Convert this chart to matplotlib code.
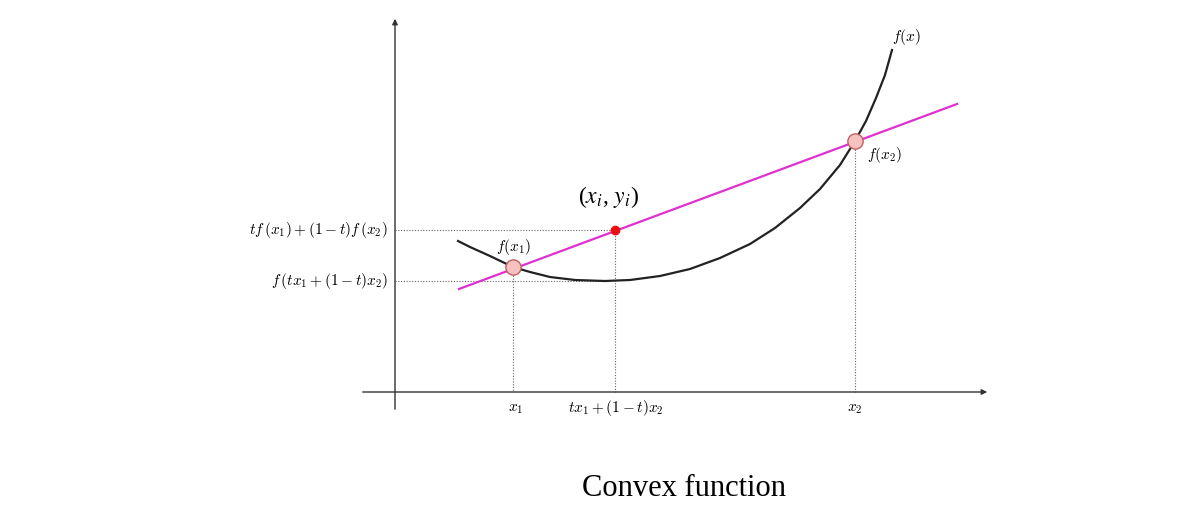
import matplotlib
matplotlib.use("Agg")
import matplotlib.pyplot as plt

plt.rcParams['mathtext.fontset'] = 'cm'

# curve samples (pixel-like units)
curve_x = [458, 470, 490, 513, 530, 550, 575, 605, 630, 660, 690, 720, 750, 775, 800, 820, 840, 855, 866, 876, 885, 892]
curve_y = [241, 247, 256, 267, 272, 277, 280, 281, 280, 276, 269, 258, 244, 228, 208, 189, 165, 141, 121, 98, 75, 50]
chord_x = [459, 957]
chord_y = [289, 104]
x1, fx1 = 513, 267
x2, fx2 = 855, 141
xm, fm = 615, 281
ym = 230
axis_x0, axis_y0 = 395, 392

fig = plt.figure(figsize=(12, 5.19), dpi=100)
ax = fig.add_axes([0, 0, 1, 1])
ax.set_xlim(0, 1200)
ax.set_ylim(519, 0)
ax.axis('off')

ax.annotate('', xy=(990, axis_y0), xytext=(360, axis_y0),
            arrowprops=dict(arrowstyle='-|>', color='#333', lw=1, mutation_scale=8))
ax.annotate('', xy=(axis_x0, 16), xytext=(axis_x0, 412),
            arrowprops=dict(arrowstyle='-|>', color='#333', lw=1, mutation_scale=8))

dot = dict(color='#666', lw=0.8, ls=(0, (1, 1.5)))
ax.plot([axis_x0, xm], [ym, ym], **dot)
ax.plot([axis_x0, xm - 10], [fm, fm], **dot)
ax.plot([x1, x1], [fx1, axis_y0], **dot)
ax.plot([xm, xm], [ym, axis_y0], **dot)
ax.plot([x2, x2], [fx2, axis_y0], **dot)

ax.plot(curve_x, curve_y, color='#222', lw=1.6, solid_joinstyle='round')
ax.plot(chord_x, chord_y, color='#e030d0', lw=1.6)
ax.plot([x1, x2], [fx1, fx2], 'o', ms=11, mfc='#f6c2c0', mec='#c06060', mew=1)
ax.plot([xm], [ym], 'o', ms=6, color='#ee1111')

s = 11
ax.text(892, 37, r'$f(x)$', fontsize=s, va='center')
ax.text(867, 155, r'$f(x_2)$', fontsize=s, va='center')
ax.text(496, 247, r'$f(x_1)$', fontsize=s, va='center')
ax.text(608, 197, r'($x_i$, $y_i$)', fontsize=17, ha='center', va='center',
        family='Liberation Serif', math_fontfamily='stix')
ax.text(388, ym, r'$tf\,(x_1)+(1-t)f\,(x_2)$', fontsize=s, ha='right', va='center')
ax.text(388, fm, r'$f\,(tx_1+(1-t)x_2)$', fontsize=s, ha='right', va='center')
ax.text(516, 408, r'$x_1$', fontsize=s, ha='center', va='center')
ax.text(616, 408, r'$tx_1+(1-t)x_2$', fontsize=s, ha='center', va='center')
ax.text(855, 408, r'$x_2$', fontsize=s, ha='center', va='center')
ax.text(684, 488, 'Convex function', fontsize=22, ha='center', va='center', family='Liberation Serif')

fig.savefig('out.png', dpi=100)
